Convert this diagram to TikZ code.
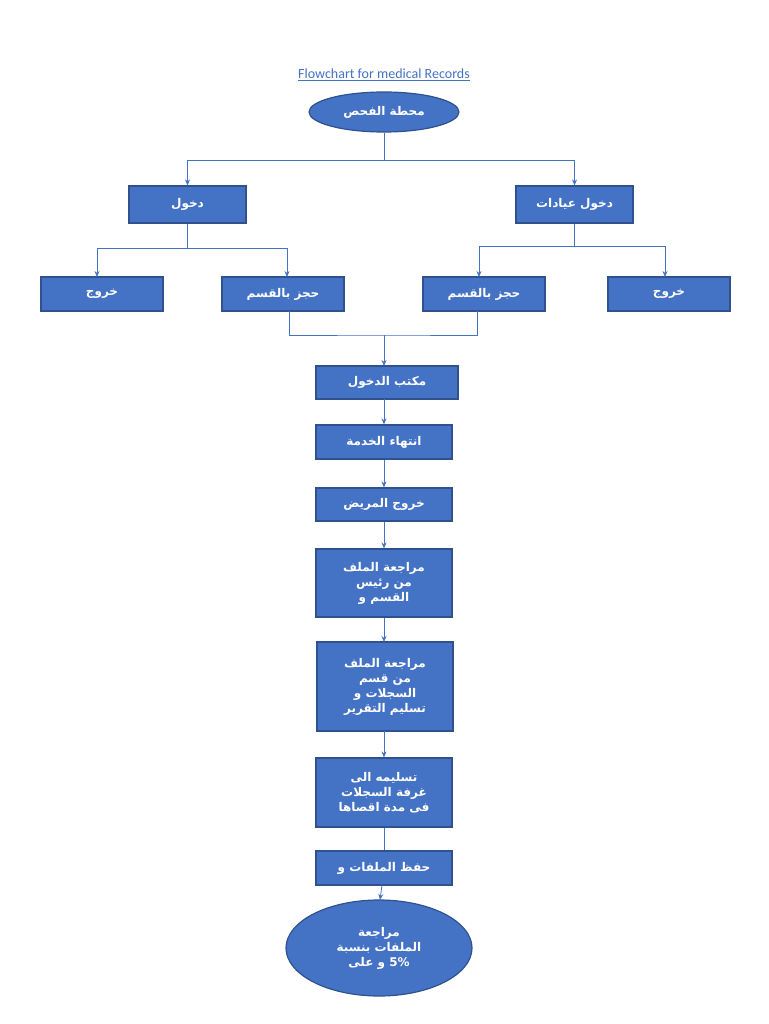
\documentclass[tikz,border=0pt]{standalone}
\usepackage{fontspec}
\setmainfont{Carlito}
\newfontfamily\arabicfont[Script=Arabic]{DejaVu Sans}
\TeXXeTstate=1
\usetikzlibrary{shapes.geometric,arrows.meta}
\newcommand{\artxt}[1]{\beginR #1\endR}
\definecolor{boxblue}{HTML}{4472C4}
\definecolor{boxedge}{HTML}{2F528F}
\begin{document}
\begin{tikzpicture}[x=1pt,y=-1pt,
  bx/.style={draw=boxedge,line width=1.2pt,fill=boxblue,text=white,font=\arabicfont\bfseries\fontsize{12}{15}\selectfont,align=center,inner sep=0pt},
  ov/.style={bx,ellipse},
  ln/.style={draw=boxblue,line width=0.8pt},
  ar/.style={ln,-{Stealth[length=6pt,width=5pt]}}]
\useasboundingbox (0,0) rectangle (768,1024);
\node[text=boxblue,font=\fontsize{14}{16}\selectfont] (title) at (384,75) {\underline{Flowchart for medical Records}};
\node[ov,minimum width=150,minimum height=40] (top) at (384,112) {\artxt{محطة الفحص}};
\node[bx,minimum width=117,minimum height=37] (L) at (187.5,204.5) {\artxt{دخول}};
\node[bx,minimum width=117,minimum height=37] (R) at (574.5,204.5) {\artxt{دخول عيادات}};
\node[bx,minimum width=122,minimum height=34] (LL) at (102,294) {\artxt{خروج}};
\node[bx,minimum width=122,minimum height=34] (LR) at (283,294) {\artxt{حجز بالقسم}};
\node[bx,minimum width=122,minimum height=34] (RL) at (484,294) {\artxt{حجز بالقسم}};
\node[bx,minimum width=122,minimum height=34] (RR) at (669,294) {\artxt{خروج}};
\node[bx,minimum width=142,minimum height=33] (b1) at (387,382.5) {\artxt{مكتب الدخول}};
\node[bx,minimum width=136,minimum height=34] (b2) at (384,442) {\artxt{انتهاء الخدمة}};
\node[bx,minimum width=136,minimum height=33] (b3) at (384,504.5) {\artxt{خروج المريض}};
\node[bx,minimum width=136,minimum height=68] (b4) at (384,583) {\artxt{مراجعة الملف}\\\artxt{من رئيس}\\\artxt{القسم و}};
\node[bx,minimum width=136,minimum height=89] (b5) at (385,686.5) {\artxt{مراجعة الملف}\\\artxt{من قسم}\\\artxt{السجلات و}\\\artxt{تسليم التقرير}};
\node[bx,minimum width=136,minimum height=69] (b6) at (384,792.5) {\artxt{تسليمه الى}\\\artxt{غرفة السجلات}\\\artxt{فى مدة اقصاها}};
\node[bx,minimum width=136,minimum height=34] (b7) at (384,868) {\artxt{حفظ الملفات و}};
\node[ov,minimum width=186,minimum height=96] (end) at (379,948) {\artxt{مراجعة}\\\artxt{الملفات بنسبة}\\\artxt{\beginL 5\%\endL{} و على}};
\coordinate (t1) at (384,160);
\path[ln] (top.south) -- (t1);
\draw[ar] (t1) -| (L.north);
\draw[ar] (t1) -| (R.north);
\coordinate (l1) at (187.5,248);
\path[ln] (L.south) -- (l1);
\coordinate (lla) at (97,277);
\coordinate (lra) at (287,277);
\draw[ar] (l1) -| (lla);
\draw[ar] (l1) -| (lra);
\coordinate (r1) at (574.5,246);
\path[ln] (R.south) -- (r1);
\coordinate (rla) at (479,277);
\coordinate (rra) at (665,277);
\draw[ar] (r1) -| (rla);
\draw[ar] (r1) -| (rra);
\coordinate (m1) at (289,311);
\coordinate (m2) at (477,311);
\coordinate (mc) at (384,335);
\coordinate (b1t) at (384,366);
\coordinate (b1b) at (384,399);
\coordinate (b5t) at (384,642);
\coordinate (b5b) at (384,731);
\coordinate (b7b) at (382,885);
\coordinate (ent) at (380,900);
\draw[ln] (m1) |- (mc) -| (m2);
\draw[ar] (mc) -- (b1t);
\draw[ar] (b1b) -- (b2.north);
\draw[ar] (b2) -- (b3);
\draw[ar] (b3) -- (b4);
\draw[ar] (b4) -- (b5t);
\draw[ar] (b5b) -- (b6);
\draw[ln] (b6) -- (b7);
\draw[ar] (b7b) -- (ent);
\end{tikzpicture}
\end{document}
